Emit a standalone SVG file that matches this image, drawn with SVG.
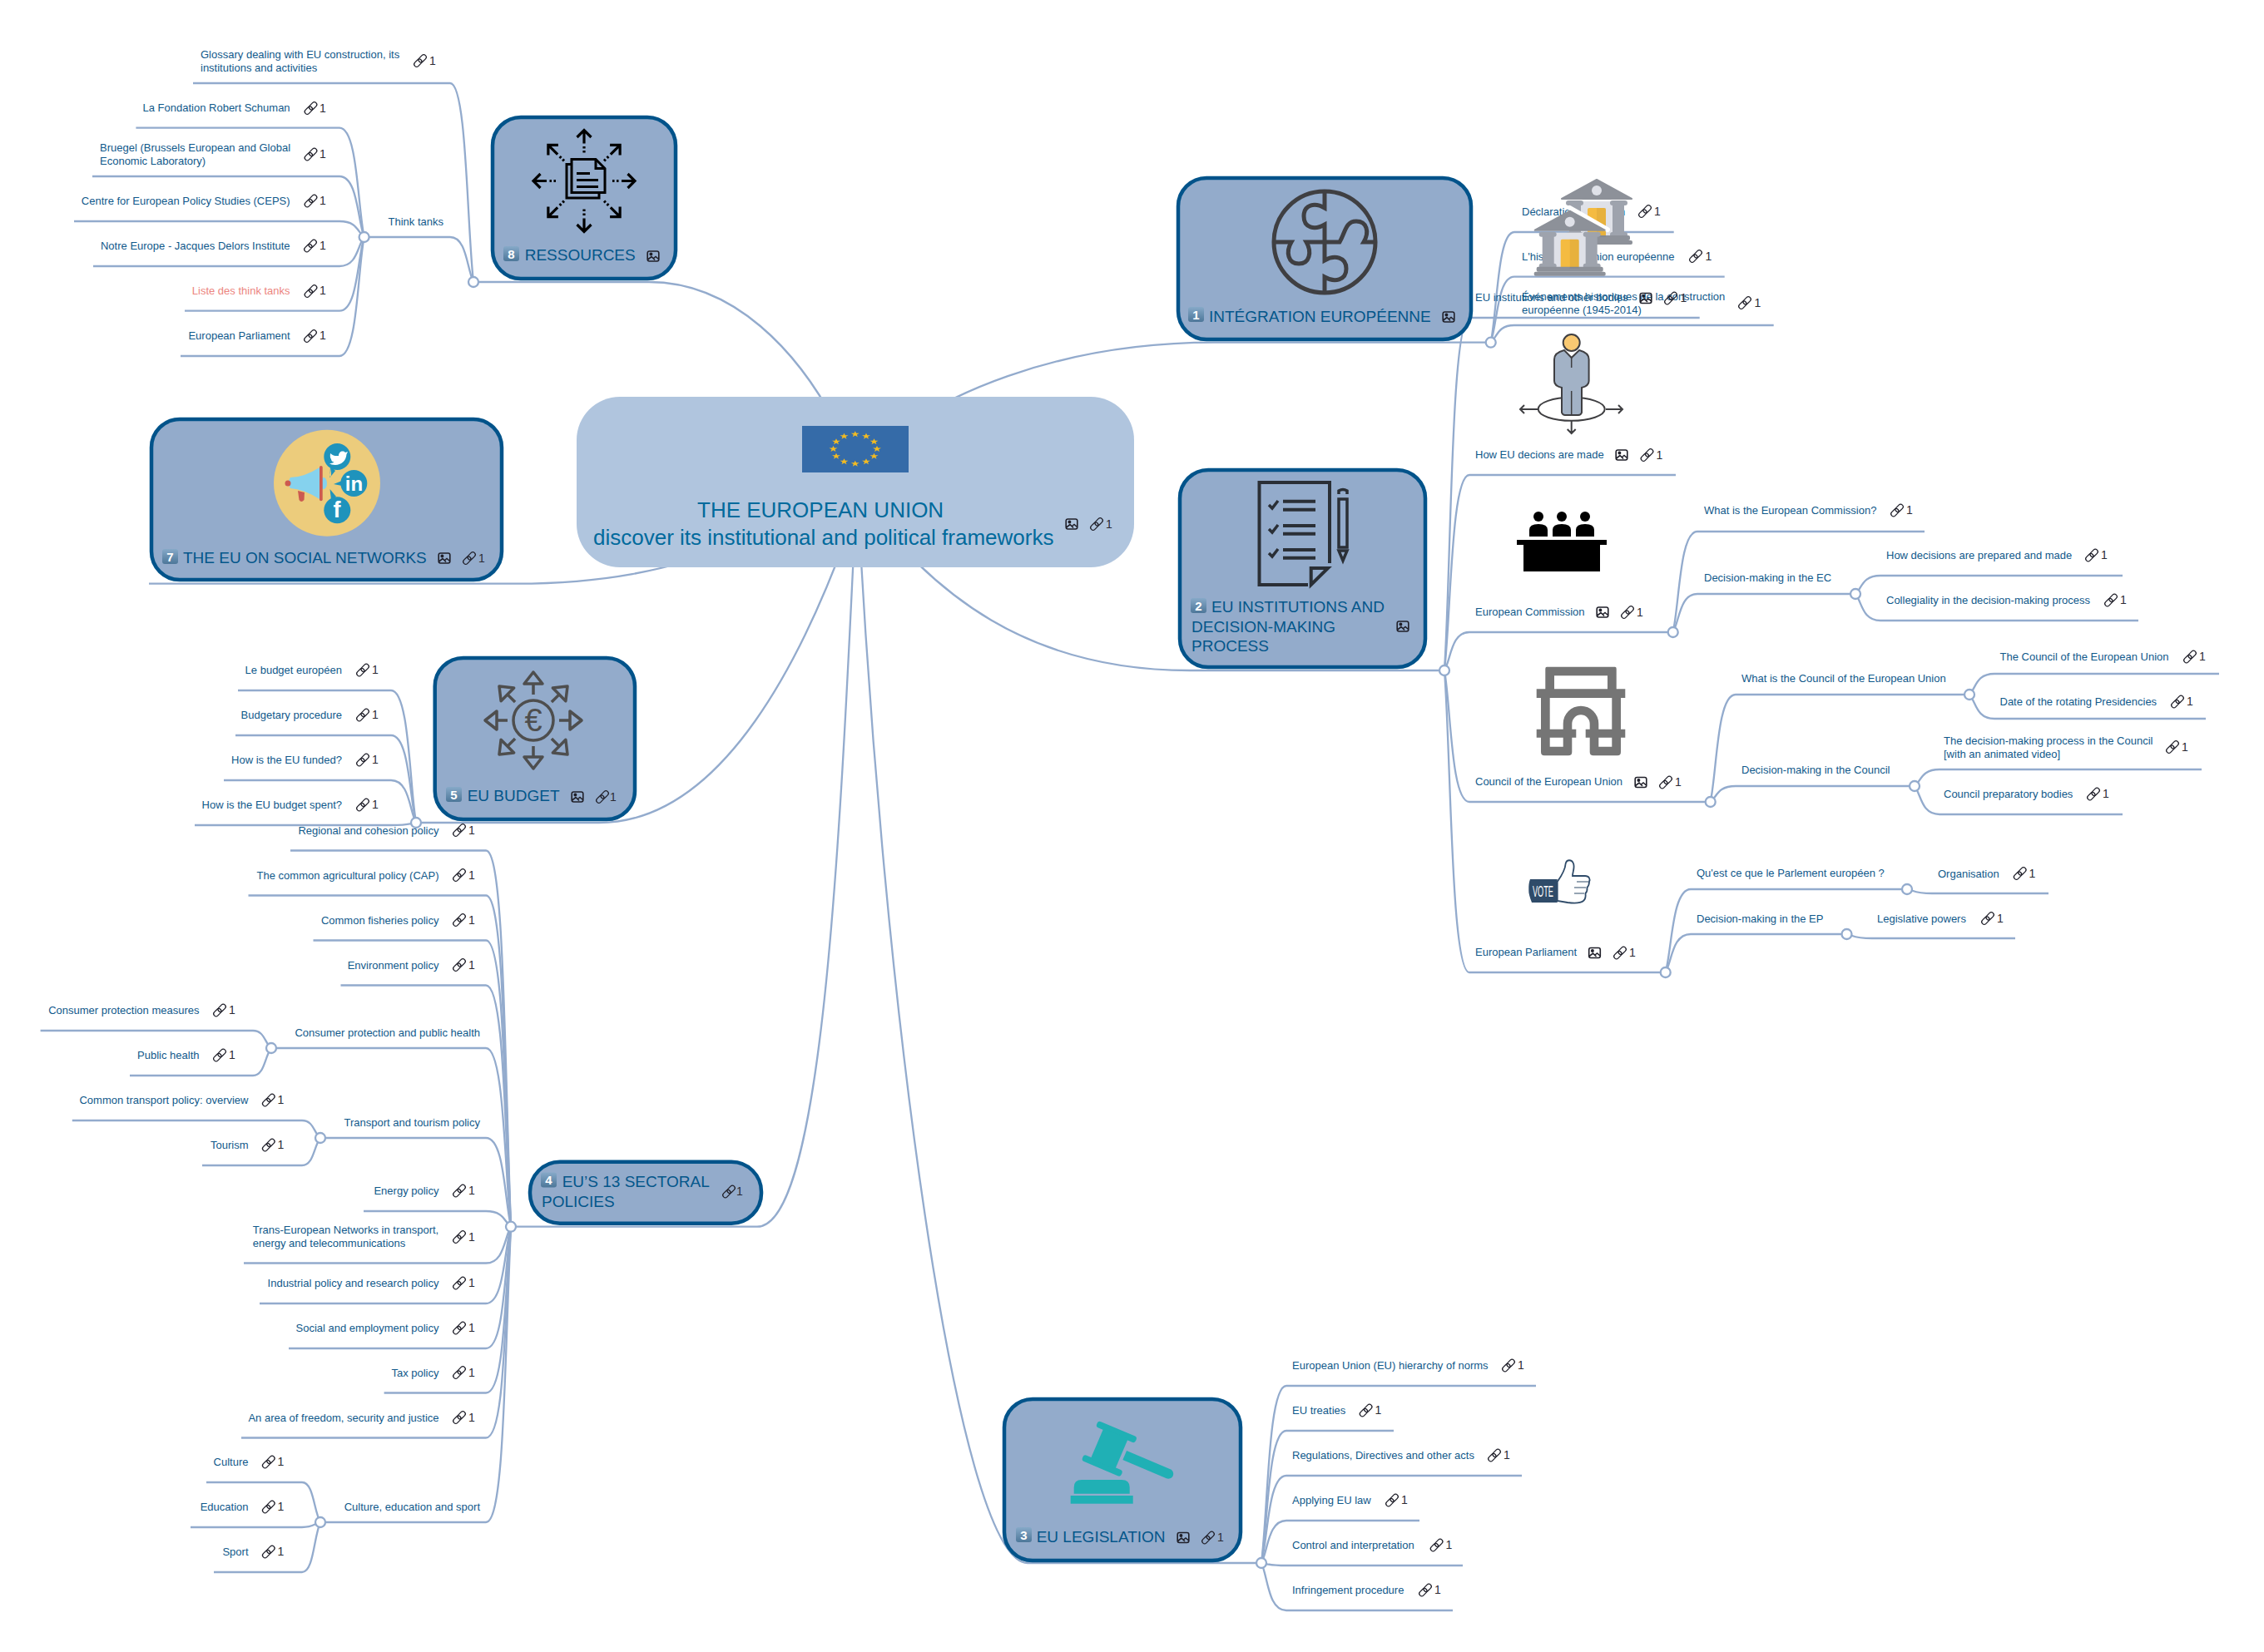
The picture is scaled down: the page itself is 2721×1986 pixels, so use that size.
<svg xmlns="http://www.w3.org/2000/svg" width="2721" height="1986" viewBox="0 0 2721 1986">
<style>
text{font-family:"Liberation Sans",Arial,sans-serif}
.l{font-size:13px;fill:#10598b}
.e{text-anchor:end}
.r{font-size:13px;fill:#ec8580}
.n{font-size:14px;fill:#2b2b33}
.b{font-size:19px;fill:#03568a}
.t{font-size:26px;fill:#006a9c}
.d{font-size:15px;font-weight:700;fill:#fff;text-anchor:middle}
.box{fill:#93abcb;stroke:#01538a;stroke-width:4.5}
.c path{fill:none;stroke:#93abcd;stroke-width:2.300}
.c circle{fill:#fff;stroke:#93abcd;stroke-width:2.300}
.bd{fill:url(#bg)}
</style>
<defs>
<linearGradient id="bg" x1="0" y1="0" x2="0" y2="1"><stop offset="0" stop-color="#86a9c8"/><stop offset="1" stop-color="#4d7799"/></linearGradient>
<g id="i" fill="none" stroke="#20202a" stroke-width="1.600"><rect x="-6.800" y="-6" width="13.600" height="12" rx="2.200"/><circle cx="-2.600" cy="-2.600" r="1.200" fill="#20202a"/><path d="M-6.400 4 L-2 .5 L2 4.500 M.5 2.500 L3 .5 L6.600 3.500"/></g>
<g id="k" fill="none" stroke="#20202a" stroke-width="1.250"><g transform="rotate(-45)"><rect x="-9" y="-3" width="10.500" height="6" rx="3"/><rect x="-1.500" y="-3" width="10.500" height="6" rx="3"/></g></g>
<polygon id="s" points="0,-3.800 1.300,-1.200 5,-1.200 2,.5 3,3.200 0,1.600 -3,3.200 -2,.5 -5,-1.200 -1.300,-1.200" fill="#f2bb22"/>
<g id="ra" stroke="#000" stroke-width="3.200" fill="none"><path d="M0 -45 V-61 M-8.500 -52.500 L0 -61 L8.500 -52.500"/><path d="M0 -41.500 V-39 M0 -36.500 V-34"/></g>
<g id="ba" stroke="#4e4e4e" stroke-width="3.500" fill="none" stroke-linejoin="round"><path d="M0 -31 V-44 M0 -58 L-11 -44 H11 Z"/></g>
<g id="bank">
<rect x="-32" y="27" width="64" height="43" fill="#dfe1e8"/>
<rect x="-11" y="35" width="22" height="35" rx="2" fill="#f4bb41"/>
<rect x="-33" y="27" width="14" height="43" fill="#9ea3ad"/><rect x="19" y="27" width="14" height="43" fill="#9ea3ad"/>
<rect x="-37" y="26" width="21" height="6" rx="3" fill="#9ea3ad"/><rect x="16" y="26" width="21" height="6" rx="3" fill="#9ea3ad"/>
<rect x="-37" y="64" width="21" height="6" rx="3" fill="#9ea3ad"/><rect x="16" y="64" width="21" height="6" rx="3" fill="#9ea3ad"/>
<rect x="-40" y="68" width="80" height="6" rx="2" fill="#8d9199"/><rect x="-43" y="74" width="86" height="5" rx="2" fill="#8d9199"/>
<polygon points="0,1 42,24 -42,24" fill="#8d9199" stroke="#8d9199" stroke-width="2" stroke-linejoin="round"/>
<circle cx="0" cy="14" r="6" fill="#dfe1e8"/>
<rect x="0" y="35" width="11" height="35" fill="#000" opacity=".05"/>
</g>
</defs>

<g id="connectors" class="c">
<!-- main branches -->
<path d="M1030 560 C1120 470 1280 411.700 1460 411.700 H1791.700"/>
<path d="M1020 580 C1120 720 1240 806 1430 806 H1736"/>
<path d="M1030 580 C1060 1200 1150 1879 1235 1879 H1516"/>
<path d="M1030 580 C1010 1000 990 1474.700 910 1474.700 H614"/>
<path d="M1040 580 C968 800 865 989 720 989 H500"/>
<path d="M179 701.700 H620 C720 701.700 800 688 900 650"/>
<path d="M569 339 H780 C880 339 960 420 1010 520"/>
<!-- branch 1 -->
<path d="M1791.700 411.700 C1799.700 372 1799.700 279 1820 279 H2011.700"/>
<path d="M1791.700 411.700 C1799.700 388 1799.700 332.700 1820 332.700 H2072.700"/>
<path d="M1791.700 411.700 C1799.700 405 1799.700 391 1820 391 H2131.700"/>
<!-- branch 2 -->
<path d="M1736 806 C1744 679 1744 382 1766 382 H2042.700"/>
<path d="M1736 806 C1744 735 1744 571 1766 571 H2014"/>
<path d="M1736 806 C1744 792 1744 760 1766 760 H2010.700"/>
<path d="M1736 806 C1744 853 1744 964 1766 964 H2055.700"/>
<path d="M1736 806 C1744 915 1744 1169 1766 1169 H2001.700"/>
<path d="M2010.700 760 C2018.700 723 2018.700 639 2040 639 H2313"/>
<path d="M2010.700 760 C2018.700 746 2018.700 714 2040 714 H2230"/>
<path d="M2230 714 C2238 707 2238 692 2260 692 H2551"/>
<path d="M2230 714 C2238 724 2238 746 2260 746 H2570"/>
<path d="M2055.700 964 C2063.700 925 2063.700 835 2086 835 H2367"/>
<path d="M2055.700 964 C2063.700 958 2063.700 945 2086 945 H2301"/>
<path d="M2367 835 C2375 827 2375 810 2397 810 H2667"/>
<path d="M2367 835 C2375 844 2375 864 2397 864 H2651"/>
<path d="M2301 945 C2309 939 2309 925 2331 925 H2646"/>
<path d="M2301 945 C2309 955 2309 979 2331 979 H2551"/>
<path d="M2001.700 1169 C2009.700 1139 2009.700 1069 2032 1069 H2292"/>
<path d="M2001.700 1169 C2009.700 1155 2009.700 1123 2032 1123 H2219.500"/>
<path d="M2292 1069 C2300 1070 2300 1074 2322 1074 H2462"/>
<path d="M2219.500 1123 C2227.500 1124.500 2227.500 1128 2250 1128 H2422"/>
<!-- branch 3 -->
<path d="M1516 1879 C1524 1815 1524 1666 1546 1666 H1846"/>
<path d="M1516 1879 C1524 1831 1524 1720 1546 1720 H1675"/>
<path d="M1516 1879 C1524 1848 1524 1774 1546 1774 H1829"/>
<path d="M1516 1879 C1524 1864 1524 1828 1546 1828 H1706"/>
<path d="M1516 1879 C1524 1880 1524 1882 1546 1882 H1758"/>
<path d="M1516 1879 C1524 1896 1524 1936 1546 1936 H1746"/>
<!-- branch 4 -->
<path d="M349 1022.500 H584 C606 1022.500 606 1260 614 1474.700"/>
<path d="M298.500 1076.500 H584 C606 1076.500 606 1290 614 1474.700"/>
<path d="M376.500 1130.500 H584 C606 1130.500 606 1320 614 1474.700"/>
<path d="M409.500 1184.500 H584 C606 1184.500 606 1350 614 1474.700"/>
<path d="M326 1260 H584 C606 1260 606 1400 614 1474.700"/>
<path d="M385 1368 H584 C606 1368 606 1438 614 1474.700"/>
<path d="M437 1456 H584 C606 1456 606 1469 614 1474.700"/>
<path d="M293 1518.500 H584 C606 1518.500 606 1488 614 1474.700"/>
<path d="M312 1567 H584 C606 1567 606 1502 614 1474.700"/>
<path d="M347 1621 H584 C606 1621 606 1530 614 1474.700"/>
<path d="M461.600 1674.500 H584 C606 1674.500 606 1570 614 1474.700"/>
<path d="M290 1728.500 H584 C606 1728.500 606 1600 614 1474.700"/>
<path d="M385 1830 H584 C606 1830 606 1650 614 1474.700"/>
<path d="M48.600 1239 H304 C318 1239 318 1254 326 1260"/>
<path d="M156 1293 H304 C318 1293 318 1270 326 1260"/>
<path d="M86.800 1347 H363 C377 1347 377 1362 385 1368"/>
<path d="M243 1401 H363 C377 1401 377 1378 385 1368"/>
<path d="M248 1782 H363 C377 1782 377 1816 385 1830"/>
<path d="M229 1836 H363 C377 1836 377 1832 385 1830"/>
<path d="M257 1890 H363 C377 1890 377 1848 385 1830"/>
<!-- branch 5 -->
<path d="M286 830 H470 C492 830 492 942 500 989"/>
<path d="M283 884 H470 C492 884 492 958 500 989"/>
<path d="M269 938 H470 C492 938 492 974 500 989"/>
<path d="M234 992 H470 C492 992 492 990 500 989"/>
<!-- branch 8 -->
<path d="M232 100 H541 C561 100 561 267 569 339"/>
<path d="M437.600 285 H541 C561 285 561 323 569 339"/>
<path d="M163.400 153.700 H408 C429.600 153.700 429.600 245 437.600 285"/>
<path d="M111 212 H408 C429.600 212 429.600 263 437.600 285"/>
<path d="M89 266 H408 C429.600 266 429.600 279 437.600 285"/>
<path d="M112 320 H408 C429.600 320 429.600 295 437.600 285"/>
<path d="M222 373.700 H408 C429.600 373.700 429.600 311 437.600 285"/>
<path d="M217 428 H408 C429.600 428 429.600 328 437.600 285"/>
<!-- junctions -->
<circle cx="1791.700" cy="411.700" r="6"/><circle cx="1736" cy="806" r="6"/><circle cx="1516" cy="1879" r="6"/><circle cx="614" cy="1474.700" r="6"/><circle cx="500" cy="989" r="6"/><circle cx="569" cy="339" r="6"/>
<circle cx="437.600" cy="285" r="6"/><circle cx="2010.700" cy="760" r="6"/><circle cx="2230" cy="714" r="6"/><circle cx="2055.700" cy="964" r="6"/><circle cx="2367" cy="835" r="6"/><circle cx="2301" cy="945" r="6"/><circle cx="2001.700" cy="1169" r="6"/><circle cx="2292" cy="1069" r="6"/><circle cx="2219.500" cy="1123" r="6"/><circle cx="326" cy="1260" r="6"/><circle cx="385" cy="1368" r="6"/><circle cx="385" cy="1830" r="6"/>
</g>

<g id="root">
<rect x="693" y="477" width="670" height="205" rx="52" fill="#b0c5de"/>
<rect x="964" y="512" width="128" height="56" fill="#356ba8"/>
<g><use href="#s" x="1027.800" y="522"/><use href="#s" x="1041" y="524.500"/><use href="#s" x="1050.500" y="531"/><use href="#s" x="1054" y="539.700"/><use href="#s" x="1050.500" y="548.500"/><use href="#s" x="1041" y="555"/><use href="#s" x="1027.800" y="557.500"/><use href="#s" x="1014.500" y="555"/><use href="#s" x="1005" y="548.500"/><use href="#s" x="1001.500" y="539.700"/><use href="#s" x="1005" y="531"/><use href="#s" x="1014.500" y="524.500"/></g>
<text class="t" x="838" y="622">THE EUROPEAN UNION</text>
<text class="t" x="713" y="655">discover its institutional and political frameworks</text>
<use href="#i" x="1288" y="630"/><use href="#k" x="1318" y="630"/><text class="n" x="1329" y="634.500">1</text>
</g>

<g id="n1">
<rect class="box" x="1416" y="214" width="352" height="194" rx="34"/>
<g fill="none" stroke="#3f3f42" stroke-width="5"><circle cx="1592" cy="291" r="61"/>
<path d="M1592 231 V250 C1580 243 1567 246 1567 260 C1567 274 1580 277 1592 270 V313 C1604 306 1618 309 1618 323 C1618 337 1604 340 1592 333 V352"/>
<path d="M1532 291 H1552 C1545 303 1548 317 1561 317 C1574 317 1577 303 1570 291 H1610 C1617 279 1617 266 1630 266 C1643 266 1646 279 1639 291 H1652"/></g>
<rect class="bd" x="1428" y="369" width="19" height="18" rx="3"/><text class="d" x="1437.500" y="384">1</text>
<text class="b" x="1453" y="387">INTÉGRATION EUROPÉENNE</text><use href="#i" x="1741" y="381"/>
</g>
<g id="n1a"><text class="l" x="1829" y="259">Déclaration Schuman</text><use href="#k" x="1977" y="254"/><text class="n" x="1988" y="259">1</text></g>
<g id="n1b"><text class="l" x="1829" y="313">L'histoire de l'union européenne</text><use href="#k" x="2038" y="308"/><text class="n" x="2049.500" y="313">1</text></g>
<g id="n1c"><text class="l" x="1829" y="361">Événements historiques de la construction</text><text class="l" x="1829" y="377">européenne (1945-2014)</text><use href="#k" x="2097" y="364"/><text class="n" x="2108.500" y="369">1</text></g>

<g id="n2">
<rect class="box" x="1418" y="565" width="295" height="237" rx="34"/>
<g fill="none" stroke="#2a2f36" stroke-width="4"><path d="M1572 703 H1513.500 V580 H1598 V677"/><path d="M1575.700 703 V683 H1596 Z"/>
<path d="M1542 602.700 H1581 M1542 612.700 H1581 M1542 632 H1581 M1542 641.700 H1581 M1542 661 H1581 M1542 670.700 H1581"/>
<path d="M1525 607 L1529 611 L1536 602 M1525 636 L1529 640 L1536 631 M1525 665 L1529 669 L1536 660" stroke-width="3.500"/>
<path d="M1609 600 H1619 V658 H1609 Z" stroke-width="3.500"/><path d="M1609 594 V590 Q1614 587 1619 590 V594" stroke-width="3.500"/><path d="M1609 662 H1619 L1614 674 Z" stroke-width="3.500"/></g>
<rect class="bd" x="1431" y="719" width="19" height="18" rx="3"/><text class="d" x="1440.500" y="733.500">2</text>
<text class="b" x="1456" y="736">EU INSTITUTIONS AND</text><text class="b" x="1432" y="760">DECISION-MAKING</text><text class="b" x="1432" y="783">PROCESS</text>
<use href="#i" x="1686" y="753"/>
</g>
<g id="n2a"><text class="l" x="1773" y="362">EU institutions and other bodies</text><use href="#i" x="1978" y="358.500"/><use href="#k" x="2008" y="358.500"/><text class="n" x="2019.500" y="363">1</text></g>
<g id="n2b">
<g fill="none" stroke="#3f3f42" stroke-width="2"><ellipse cx="1888.700" cy="491.800" rx="40" ry="14"/><path d="M1848 492 H1827 M1832 487 L1827 492 L1832 497 M1930 492 H1950 M1945 487 L1950 492 L1945 497 M1888.700 506 V521 M1883.700 516 L1888.700 521 L1893.700 516"/></g>
<path d="M1868 432 Q1868 424 1880 421 L1888.700 430 L1898 421 Q1909.600 424 1909.600 432 V458 Q1909.600 464 1901 466 V496 Q1900 499 1897 499 H1881 Q1878 499 1877 496 V466 Q1868 464 1868 458 Z" fill="#a2b2c6" stroke="#3f3f42" stroke-width="2"/>
<path d="M1888.700 430 V442 M1888.700 470 V498" fill="none" stroke="#3f3f42" stroke-width="1.500"/>
<circle cx="1888.700" cy="412" r="10" fill="#f9c972" stroke="#3f3f42" stroke-width="2"/>
<text class="l" x="1773" y="551">How EU decions are made</text><use href="#i" x="1949" y="547"/><use href="#k" x="1979.500" y="547"/><text class="n" x="1990.500" y="551.500">1</text></g>
<g id="n2c">
<path d="M1823 649 H1931 V655 H1923 V687 H1831 V655 H1823 Z" fill="#000"/>
<g fill="#000"><circle cx="1849" cy="621" r="6"/><circle cx="1877" cy="621" r="6"/><circle cx="1905" cy="621" r="6"/><path d="M1838 645 V637 Q1838 630 1849 630 Q1860 630 1860 637 V645 Z M1866 645 V637 Q1866 630 1877 630 Q1888 630 1888 637 V645 Z M1894 645 V637 Q1894 630 1905 630 Q1916 630 1916 637 V645 Z"/></g>
<text class="l" x="1773" y="739.500">European Commission</text><use href="#i" x="1926" y="736"/><use href="#k" x="1956" y="736"/><text class="n" x="1967" y="740.500">1</text></g>
<g id="n2c1"><text class="l" x="2048" y="617.500">What is the European Commission?</text><use href="#k" x="2280" y="613.500"/><text class="n" x="2291" y="618">1</text></g>
<g id="n2c2"><text class="l" x="2048" y="698.500">Decision-making in the EC</text></g>
<g id="n2c3"><text class="l" x="2267" y="672">How decisions are prepared and made</text><use href="#k" x="2514" y="667.500"/><text class="n" x="2525" y="672">1</text></g>
<g id="n2c4"><text class="l" x="2267" y="726">Collegiality in the decision-making process</text><use href="#k" x="2537" y="721.500"/><text class="n" x="2548" y="726">1</text></g>
<g id="n2d">
<path fill="#757575" fill-rule="evenodd" d="M1859 801.700 H1941 Q1942.700 801.700 1942.700 804 V828.300 H1953.300 V839 H1948 V876.700 H1953.300 V886.700 H1948 V904 Q1948 908.300 1944 908.300 H1915 Q1910.700 908.300 1910.700 904 V886.700 H1905.700 V876.700 H1910.700 V870 A10.700 10.700 0 0 0 1889.300 870 V876.700 H1894.300 V886.700 H1889.300 V904 Q1889.300 908.300 1885 908.300 H1856 Q1852 908.300 1852 904 V886.700 H1846.700 V876.700 H1852 V839 H1846.700 V828.300 H1857.300 V804 Q1857.300 801.700 1859 801.700 Z M1868 812.300 V828.300 H1932 V812.300 Z M1862.700 839 V876.700 H1878.700 V870 A21.300 21.300 0 0 1 1921.300 870 V876.700 H1937.300 V839 Z M1862.700 886.700 V897.700 H1878.700 V886.700 Z M1921.300 886.700 V897.700 H1937.300 V886.700 Z"/>
<text class="l" x="1773" y="944">Council of the European Union</text><use href="#i" x="1972" y="940.500"/><use href="#k" x="2002" y="940.500"/><text class="n" x="2013" y="945">1</text></g>
<g id="n2d1"><text class="l" x="2093" y="820">What is the Council of the European Union</text></g>
<g id="n2d2"><text class="l" x="2093" y="930">Decision-making in the Council</text></g>
<g id="n2d3"><text class="l" x="2403.500" y="794">The Council of the European Union</text><use href="#k" x="2632" y="789.500"/><text class="n" x="2643" y="794">1</text></g>
<g id="n2d4"><text class="l" x="2403.500" y="848">Date of the rotating Presidencies</text><use href="#k" x="2617" y="843.500"/><text class="n" x="2628" y="848">1</text></g>
<g id="n2d5"><text class="l" x="2336" y="894.500">The decision-making process in the Council</text><text class="l" x="2336" y="910.500">[with an animated video]</text><use href="#k" x="2611" y="898"/><text class="n" x="2622" y="902.500">1</text></g>
<g id="n2d6"><text class="l" x="2336" y="959">Council preparatory bodies</text><use href="#k" x="2516" y="954.500"/><text class="n" x="2527" y="959">1</text></g>
<g id="n2e">
<path d="M1871.700 1060 C1876 1054 1881 1047 1881.700 1038 C1883 1033 1889 1033 1891 1038 C1893 1043 1890 1048 1890 1053 H1905 C1910 1053 1911.500 1057 1910 1060 C1910 1064 1908.500 1066 1907.500 1067 C1908 1071 1906.500 1073 1905.500 1074 C1906 1078 1905.500 1081 1903 1083 C1900 1085.500 1892 1086 1884 1085 L1871.700 1083 Z" fill="#fff" stroke="#2f4b69" stroke-width="1.800"/>
<path d="M1895 1060 H1909 M1892 1067 H1906 M1892 1074 H1904" stroke="#2f4b69" stroke-width="1.200" fill="none"/>
<path d="M1839 1057 H1871.700 V1085 H1841 Q1837 1075 1837.300 1070 Q1837 1062 1839 1057 Z" fill="#2f4b69"/>
<text x="1842" y="1078" font-size="18" fill="#fff" textLength="25" lengthAdjust="spacingAndGlyphs">VOTE</text>
<text class="l" x="1773" y="1149">European Parliament</text><use href="#i" x="1916.500" y="1145.500"/><use href="#k" x="1947" y="1145.500"/><text class="n" x="1958" y="1150">1</text></g>
<g id="n2e1"><text class="l" x="2039" y="1054">Qu'est ce que le Parlement européen ?</text></g>
<g id="n2e2"><text class="l" x="2039" y="1108.500">Decision-making in the EP</text></g>
<g id="n2e3"><text class="l" x="2329" y="1054.500">Organisation</text><use href="#k" x="2427.700" y="1050"/><text class="n" x="2438.500" y="1054.500">1</text></g>
<g id="n2e4"><text class="l" x="2256" y="1108.500">Legislative powers</text><use href="#k" x="2389" y="1104"/><text class="n" x="2400" y="1108.500">1</text></g>

<g id="n3">
<rect class="box" x="1207" y="1682" width="284" height="194" rx="34"/>
<g fill="#20b0b5"><rect x="1286.700" y="1798" width="75" height="9.700"/><path d="M1290.700 1795.700 V1788 Q1290.700 1779 1300 1779 H1348 Q1357.700 1779 1357.700 1788 V1795.700 Z"/>
<g transform="translate(1333.300 1741.700) rotate(23)"><rect x="-25.500" y="-26" width="51" height="8" rx="3.500"/><rect x="-25.500" y="18" width="51" height="8" rx="3.500"/><rect x="-16" y="-20" width="32" height="40"/><path d="M20 -6 H77 A6 6 0 0 1 77 6 H20 Z"/></g></g>
<rect class="bd" x="1221" y="1836" width="19" height="18" rx="3"/><text class="d" x="1230.500" y="1851">3</text>
<text class="b" x="1245.700" y="1854">EU LEGISLATION</text><use href="#i" x="1422" y="1848.500"/><use href="#k" x="1452" y="1848.500"/><text class="n" x="1463" y="1853">1</text>
</g>
<g id="n3a"><text class="l" x="1553" y="1646">European Union (EU) hierarchy of norms</text><use href="#k" x="1813" y="1641.500"/><text class="n" x="1824" y="1646">1</text></g>
<g id="n3b"><text class="l" x="1553" y="1700">EU treaties</text><use href="#k" x="1641.600" y="1695.500"/><text class="n" x="1652.500" y="1700">1</text></g>
<g id="n3c"><text class="l" x="1553" y="1754">Regulations, Directives and other acts</text><use href="#k" x="1796" y="1749.500"/><text class="n" x="1807" y="1754">1</text></g>
<g id="n3d"><text class="l" x="1553" y="1808">Applying EU law</text><use href="#k" x="1673" y="1803.500"/><text class="n" x="1684" y="1808">1</text></g>
<g id="n3e"><text class="l" x="1553" y="1862">Control and interpretation</text><use href="#k" x="1726.600" y="1857.500"/><text class="n" x="1737.500" y="1862">1</text></g>
<g id="n3f"><text class="l" x="1553" y="1916">Infringement procedure</text><use href="#k" x="1713" y="1911.500"/><text class="n" x="1724" y="1916">1</text></g>

<g id="n4">
<rect class="box" x="637" y="1396.700" width="278" height="74" rx="36"/>
<rect class="bd" x="650" y="1409.500" width="19" height="18" rx="3"/><text class="d" x="659.500" y="1424">4</text>
<text class="b" x="675.700" y="1427">EU’S 13 SECTORAL</text><text class="b" x="651" y="1451">POLICIES</text>
<use href="#k" x="876" y="1432.500"/><text class="n" x="885" y="1437">1</text>
</g>
<g id="n4a"><text class="l e" x="527.500" y="1002.500">Regional and cohesion policy</text><use href="#k" x="552" y="998"/><text class="n" x="563" y="1002.500">1</text></g>
<g id="n4b"><text class="l e" x="527.500" y="1056.500">The common agricultural policy (CAP)</text><use href="#k" x="552" y="1052"/><text class="n" x="563" y="1056.500">1</text></g>
<g id="n4c"><text class="l e" x="527.500" y="1110.500">Common fisheries policy</text><use href="#k" x="552" y="1106"/><text class="n" x="563" y="1110.500">1</text></g>
<g id="n4d"><text class="l e" x="527.500" y="1164.500">Environment policy</text><use href="#k" x="552" y="1160"/><text class="n" x="563" y="1164.500">1</text></g>
<g id="n4e"><text class="l e" x="577" y="1246">Consumer protection and public health</text></g>
<g id="n4e1"><text class="l e" x="239.500" y="1219">Consumer protection measures</text><use href="#k" x="264" y="1214.500"/><text class="n" x="275" y="1219">1</text></g>
<g id="n4e2"><text class="l e" x="239.500" y="1273">Public health</text><use href="#k" x="264" y="1268.500"/><text class="n" x="275" y="1273">1</text></g>
<g id="n4f"><text class="l e" x="577" y="1354">Transport and tourism policy</text></g>
<g id="n4f1"><text class="l e" x="298.500" y="1327">Common transport policy: overview</text><use href="#k" x="322.800" y="1322.500"/><text class="n" x="333.500" y="1327">1</text></g>
<g id="n4f2"><text class="l e" x="298.500" y="1381">Tourism</text><use href="#k" x="322.800" y="1376.500"/><text class="n" x="333.500" y="1381">1</text></g>
<g id="n4g"><text class="l e" x="527.500" y="1436">Energy policy</text><use href="#k" x="552" y="1431.500"/><text class="n" x="563" y="1436">1</text></g>
<g id="n4h"><text class="l" x="303.700" y="1482.500">Trans-European Networks in transport,</text><text class="l" x="303.700" y="1498.500">energy and telecommunications</text><use href="#k" x="552" y="1487"/><text class="n" x="563" y="1491.500">1</text></g>
<g id="n4i"><text class="l e" x="527.500" y="1547">Industrial policy and research policy</text><use href="#k" x="552" y="1542.500"/><text class="n" x="563" y="1547">1</text></g>
<g id="n4j"><text class="l e" x="527.500" y="1601">Social and employment policy</text><use href="#k" x="552" y="1596.500"/><text class="n" x="563" y="1601">1</text></g>
<g id="n4k"><text class="l e" x="527.500" y="1654.500">Tax policy</text><use href="#k" x="552" y="1650"/><text class="n" x="563" y="1654.500">1</text></g>
<g id="n4l"><text class="l e" x="527.500" y="1708.500">An area of freedom, security and justice</text><use href="#k" x="552" y="1704"/><text class="n" x="563" y="1708.500">1</text></g>
<g id="n4m"><text class="l e" x="577" y="1816">Culture, education and sport</text></g>
<g id="n4m1"><text class="l e" x="298.500" y="1762">Culture</text><use href="#k" x="322.800" y="1757.500"/><text class="n" x="333.500" y="1762">1</text></g>
<g id="n4m2"><text class="l e" x="298.500" y="1816">Education</text><use href="#k" x="322.800" y="1811.500"/><text class="n" x="333.500" y="1816">1</text></g>
<g id="n4m3"><text class="l e" x="298.500" y="1870">Sport</text><use href="#k" x="322.800" y="1865.500"/><text class="n" x="333.500" y="1870">1</text></g>

<g id="n5">
<rect class="box" x="522.700" y="791" width="240.300" height="194" rx="34"/>
<g transform="translate(641 866)"><use href="#ba"/><use href="#ba" transform="rotate(45)"/><use href="#ba" transform="rotate(90)"/><use href="#ba" transform="rotate(135)"/><use href="#ba" transform="rotate(180)"/><use href="#ba" transform="rotate(225)"/><use href="#ba" transform="rotate(270)"/><use href="#ba" transform="rotate(315)"/>
<circle r="24" fill="none" stroke="#4e4e4e" stroke-width="3.500"/><text x="0" y="13" font-size="38" fill="#4e4e4e" text-anchor="middle">€</text></g>
<rect class="bd" x="536" y="946" width="19" height="18" rx="3"/><text class="d" x="545.500" y="961">5</text>
<text class="b" x="561.700" y="963">EU BUDGET</text><use href="#i" x="694" y="958"/><use href="#k" x="724" y="958"/><text class="n" x="733" y="962.500">1</text>
</g>
<g id="n5a"><text class="l e" x="411" y="810">Le budget européen</text><use href="#k" x="436" y="805.500"/><text class="n" x="447" y="810">1</text></g>
<g id="n5b"><text class="l e" x="411" y="864">Budgetary procedure</text><use href="#k" x="436" y="859.500"/><text class="n" x="447" y="864">1</text></g>
<g id="n5c"><text class="l e" x="411" y="918">How is the EU funded?</text><use href="#k" x="436" y="913.500"/><text class="n" x="447" y="918">1</text></g>
<g id="n5d"><text class="l e" x="411" y="972">How is the EU budget spent?</text><use href="#k" x="436" y="967.500"/><text class="n" x="447" y="972">1</text></g>

<g id="n7">
<rect class="box" x="182" y="504" width="421" height="193" rx="34"/>
<circle cx="393" cy="580.700" r="64" fill="#eccc7c"/>
<g fill="#1f93bc"><path d="M398 572 L396 574 L398 563 Z M396.500 574 L403 566 L397 560 Z"/><circle cx="405.300" cy="549" r="16"/><path d="M401 582 L411 578 L411 584 Z"/><circle cx="425.300" cy="581" r="16"/><path d="M396.500 588 L404 597 L398 601 Z"/><circle cx="405.300" cy="613.300" r="16"/></g>
<path d="M397 545 C401 549 405 548 407 548 C407 543 412 541 415 544 L418 543 L416.500 546 C416 554 410 559 403 559 C399.500 559 397.500 558 396 557 C398 557 400 556.500 401.500 555.500 C399 555 398 553.500 398 552 C397 551 396.500 549 397 545 Z" fill="#fff"/>
<text x="425.500" y="590" font-size="24" font-weight="700" fill="#fff" text-anchor="middle">in</text>
<text x="405" y="622" font-size="27" font-weight="700" fill="#fff" text-anchor="middle">f</text>
<path d="M346 580 L349 574 Q365 574 384 562 V600 Q365 588 349 587 Z" fill="#85d2ee"/>
<circle cx="346" cy="581" r="3.500" fill="#cc5a50"/><ellipse cx="389" cy="581" rx="4" ry="7" fill="#85d2ee"/>
<rect x="384" y="560" width="3.700" height="42.300" rx="1.800" fill="#cc5a50"/>
<path d="M358 590 L366 592 L365.500 601 Q362 605 359.500 601 Z" fill="#cc5a50"/>
<rect class="bd" x="195" y="660" width="19" height="18" rx="3"/><text class="d" x="204.500" y="674.500">7</text>
<text class="b" x="220" y="677">THE EU ON SOCIAL NETWORKS</text><use href="#i" x="534" y="671"/><use href="#k" x="564" y="671"/><text class="n" x="575" y="675.500">1</text>
</g>

<g id="n8">
<rect class="box" x="592" y="141" width="220" height="194" rx="34"/>
<g transform="translate(702 217.500)"><use href="#ra"/><use href="#ra" transform="rotate(45)"/><use href="#ra" transform="rotate(90)"/><use href="#ra" transform="rotate(135)"/><use href="#ra" transform="rotate(180)"/><use href="#ra" transform="rotate(225)"/><use href="#ra" transform="rotate(270)"/><use href="#ra" transform="rotate(315)"/>
<g fill="none" stroke="#000" stroke-width="3"><path d="M-15 -20 H-21 V20.500 H18 V14"/><path d="M-15 -26 H14 L25 -15 V14 H-15 Z"/><path d="M14 -26 V-15 H25 M-9 -9 H7 M-9 -1 H17 M-9 7 H17"/></g></g>
<rect class="bd" x="605" y="296" width="19" height="18" rx="3"/><text class="d" x="614.500" y="311">8</text>
<text class="b" x="630.700" y="313">RESSOURCES</text><use href="#i" x="785" y="308"/>
</g>
<g id="n8a"><text class="l" x="241" y="70">Glossary dealing with EU construction, its</text><text class="l" x="241" y="86">institutions and activities</text><use href="#k" x="505" y="73"/><text class="n" x="516" y="77.500">1</text></g>
<g id="n8b"><text class="l e" x="533" y="271">Think tanks</text></g>
<g id="n8c"><text class="l e" x="348.600" y="134">La Fondation Robert Schuman</text><use href="#k" x="373.500" y="130"/><text class="n" x="384" y="134.500">1</text></g>
<g id="n8d"><text class="l" x="120" y="182">Bruegel (Brussels European and Global</text><text class="l" x="120" y="198">Economic Laboratory)</text><use href="#k" x="373.500" y="185.500"/><text class="n" x="384" y="190">1</text></g>
<g id="n8e"><text class="l e" x="348.600" y="246">Centre for European Policy Studies (CEPS)</text><use href="#k" x="373.500" y="241.500"/><text class="n" x="384" y="246">1</text></g>
<g id="n8f"><text class="l e" x="348.600" y="300">Notre Europe - Jacques Delors Institute</text><use href="#k" x="373" y="295.500"/><text class="n" x="384" y="300">1</text></g>
<g id="n8g"><text class="r e" x="348.600" y="354">Liste des think tanks</text><use href="#k" x="373.500" y="350"/><text class="n" x="384" y="354">1</text></g>
<g id="n8h"><text class="l e" x="348.600" y="408">European Parliament</text><use href="#k" x="373" y="404"/><text class="n" x="384" y="408">1</text></g>

<g id="bank-image">
<use href="#bank" x="1919" y="215"/>
<path d="M1886.700 250 L1932 276" fill="none" stroke="#fff" stroke-width="6" stroke-linecap="round"/>
<use href="#bank" x="1886.700" y="252.700"/>
</g>
</svg>
